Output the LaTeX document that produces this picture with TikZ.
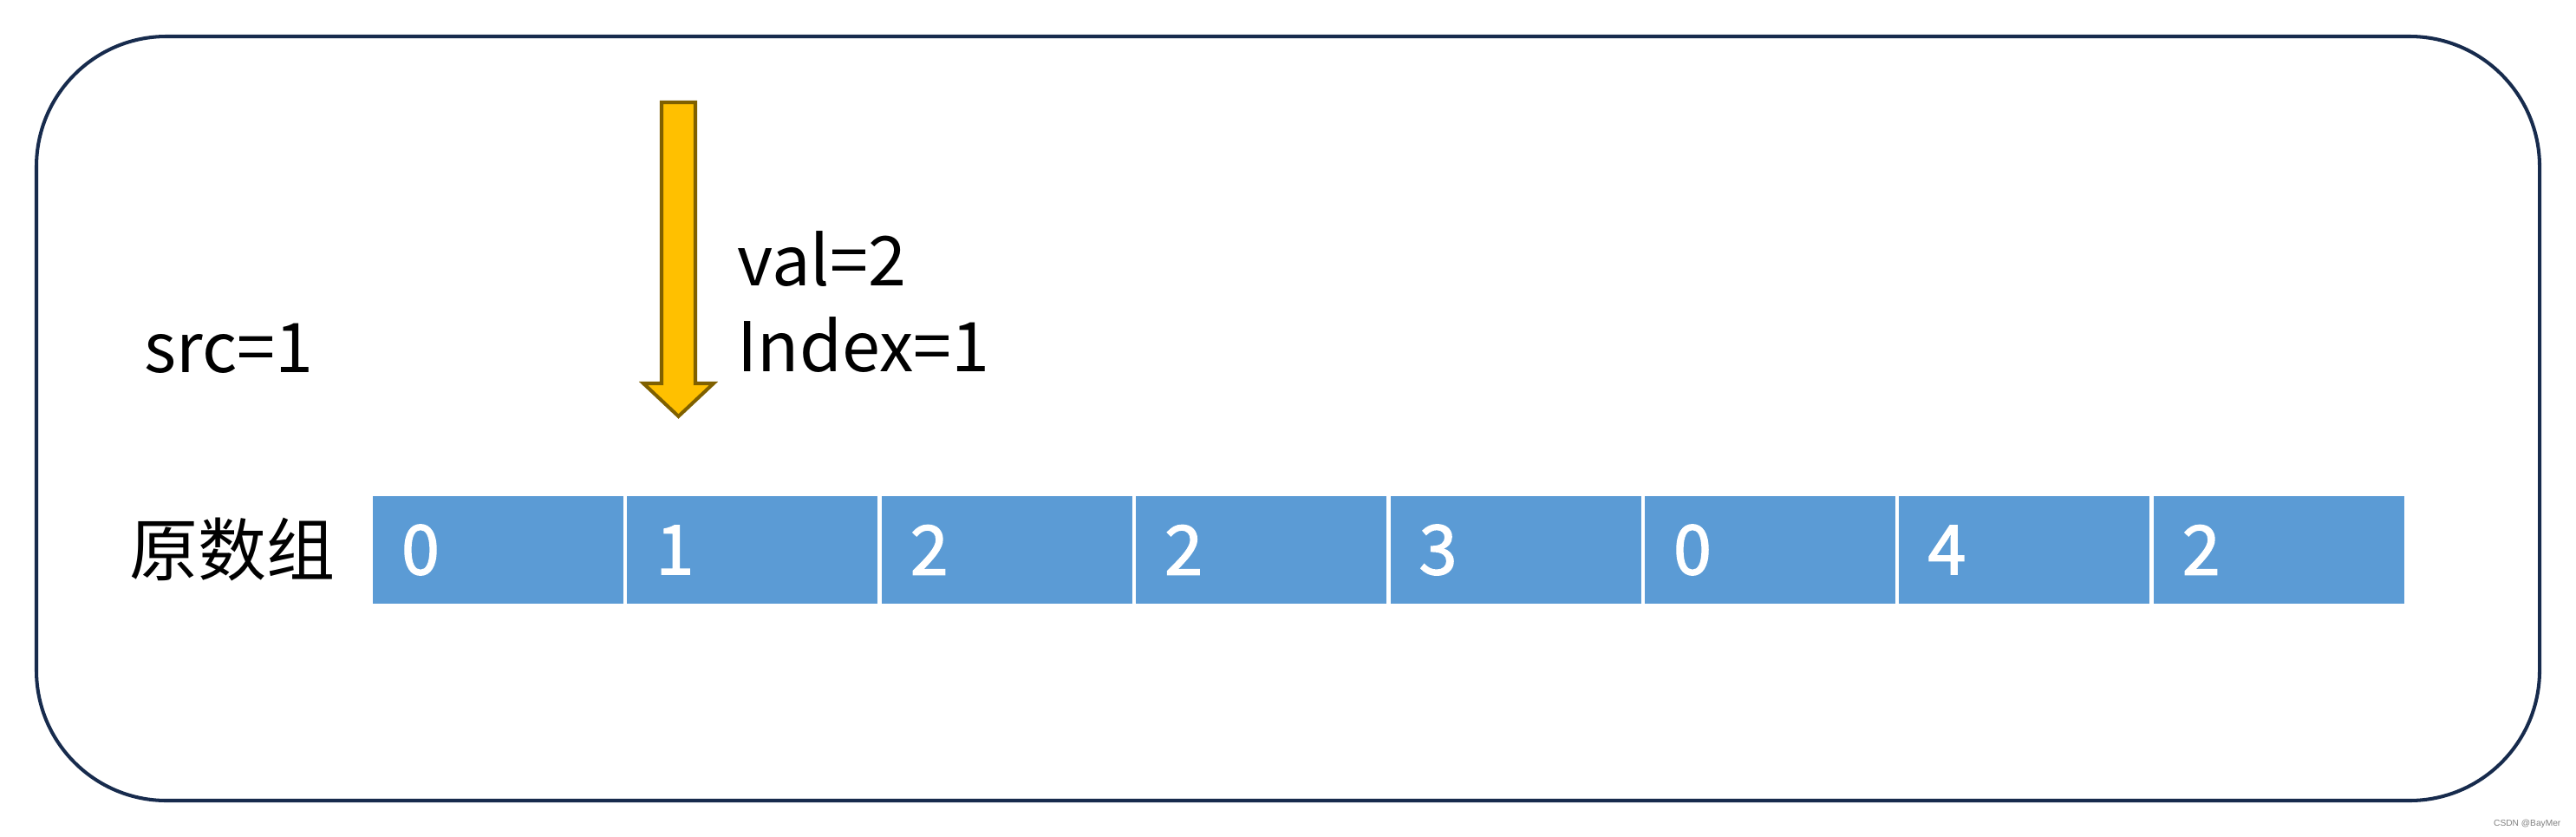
\documentclass[tikz,border=0pt]{standalone}
\usepackage{fontspec}
\setmainfont{Noto Sans CJK SC}
\newfontfamily\markfont{Liberation Sans}
\newfontfamily\cellfont[FakeBold=1.8]{Noto Sans CJK SC}
\usepackage{tikz}
\usetikzlibrary{positioning}

\definecolor{frameblue}{HTML}{172B4D}
\definecolor{cellblue}{HTML}{5B9BD5}
\definecolor{arrowfill}{HTML}{FFC000}
\definecolor{arrowdraw}{HTML}{7F6000}

\begin{document}
\begin{tikzpicture}[
    cell/.style={fill=cellblue,text=white,minimum width=2.89cm,minimum height=1.24cm,
      inner xsep=0.33cm,inner ysep=0pt,text width=2.23cm,align=left,
      font=\cellfont\fontsize{22.5}{24}\selectfont},
    txt/.style={inner sep=0pt,anchor=base west,font=\fontsize{22.5}{24}\selectfont}
  ]
    \useasboundingbox (0,0) rectangle (29.71,-9.64);
    \draw[frameblue,line width=1.15pt,rounded corners=1.5cm] (0.42,-0.42) rectangle (29.29,-9.23);
    \foreach \v [count=\i from 0] in {0,1,2,2,3,0,4,2} {
      \node[cell] (c\i) at ({5.745+2.934*\i},-6.34) {\v};
    }
    \node[txt,anchor=east,left=0.42cm of c0] (arr) {原数组};
    \node[txt] (src) at (1.66,-4.29) {src=1};
    \draw[arrowdraw,fill=arrowfill,line width=1.15pt] (7.63,-1.18) -- (8.02,-1.18) -- (8.02,-4.42)
      -- (8.23,-4.42) -- (7.825,-4.80) -- (7.42,-4.42) -- (7.63,-4.42) -- cycle;
    \node[txt] (val) at (8.50,-3.29) {val=2};
    \node[txt] (idx) at (8.50,-4.28) {Index=1};
    \node[inner sep=0pt,anchor=base east,text=gray,font=\markfont\fontsize{2.9}{3}\selectfont]
      (mark) at (29.54,-9.52) {CSDN @BayMer};
  \end{tikzpicture}
\end{document}
